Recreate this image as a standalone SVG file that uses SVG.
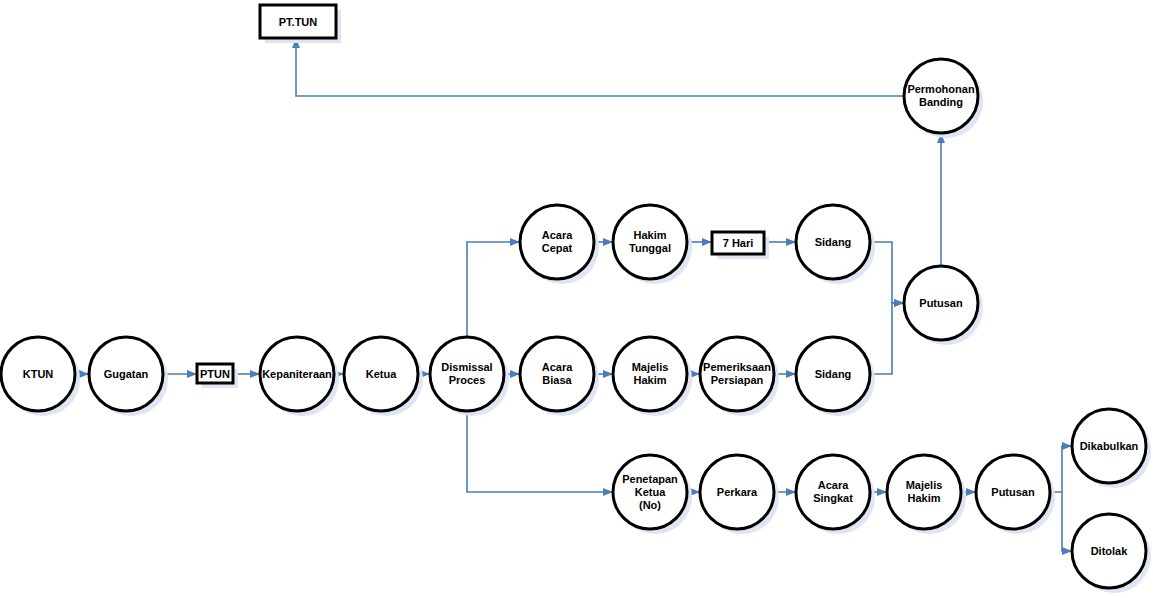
<svg xmlns="http://www.w3.org/2000/svg" width="1153" height="598" viewBox="0 0 1153 598">
<style>
.n circle.s,.n rect.s{fill:#dfe5f2;stroke:none}
.n circle.m,.n rect.m{fill:#fff;stroke:#000;stroke-width:3}
.n text{font-family:"Liberation Sans",Arial,sans-serif;font-size:11px;font-weight:bold;text-anchor:middle;fill:#000}
.c path{fill:none;stroke:#4a7ebb;stroke-width:1.6;marker-end:url(#a)}
</style>
<defs><marker id="a" markerWidth="10" markerHeight="8" refX="9" refY="4" orient="auto" markerUnits="userSpaceOnUse"><path d="M0,0L10,4L0,8z" fill="#4a7ebb"/></marker></defs>
<rect width="1153" height="598" fill="#fff"/>
<g class="c">
<path d="M75,374H88"/><path d="M163,374H196"/><path d="M234,374H259"/><path d="M334,374H343"/><path d="M418,374H429"/>
<path d="M504,374H519"/><path d="M594,374H612"/><path d="M687,374H699"/><path d="M774,374H795"/>
<path d="M467,337V242H519"/><path d="M594,242H612"/><path d="M687,242H711"/><path d="M765,242H795"/>
<path d="M870,242H892V303H903"/><path d="M870,374H892V303H903"/>
<path d="M941,266V134"/><path d="M904,96H296V39"/>
<path d="M467,411V492H612"/><path d="M687,492H699"/><path d="M774,492H795"/><path d="M870,492H886"/><path d="M961,492H975"/>
<path d="M1050,492H1062V446H1071"/><path d="M1062,492V551H1071"/>
</g>
<g id="ptt" class="n"><rect class="s" x="265" y="10" width="76" height="33"/><rect class="m" x="260" y="5" width="76" height="33"/><text x="298" y="26">PT.TUN</text></g>
<g id="ptun" class="n"><rect class="s" x="202" y="369" width="36" height="19"/><rect class="m" x="197" y="364" width="36" height="19"/><text x="215" y="378">PTUN</text></g>
<g id="h7" class="n"><rect class="s" x="717" y="237" width="52" height="22"/><rect class="m" x="712" y="232" width="52" height="22"/><text x="738" y="247">7 Hari</text></g>
<g id="ktun" class="n"><circle class="s" cx="43" cy="379" r="37"/><circle class="m" cx="38" cy="374" r="37"/><text x="38" y="378">KTUN</text></g>
<g id="gugatan" class="n"><circle class="s" cx="131" cy="379" r="37"/><circle class="m" cx="126" cy="374" r="37"/><text x="126" y="378">Gugatan</text></g>
<g id="kep" class="n"><circle class="s" cx="302" cy="379" r="37"/><circle class="m" cx="297" cy="374" r="37"/><text x="297" y="378">Kepaniteraan</text></g>
<g id="ketua" class="n"><circle class="s" cx="386" cy="379" r="37"/><circle class="m" cx="381" cy="374" r="37"/><text x="381" y="378">Ketua</text></g>
<g id="dis" class="n"><circle class="s" cx="472" cy="379" r="37"/><circle class="m" cx="467" cy="374" r="37"/><text x="467" y="371">Dismissal</text><text x="467" y="384">Proces</text></g>
<g id="ab" class="n"><circle class="s" cx="562" cy="379" r="37"/><circle class="m" cx="557" cy="374" r="37"/><text x="557" y="371">Acara</text><text x="557" y="384">Biasa</text></g>
<g id="mh1" class="n"><circle class="s" cx="655" cy="379" r="37"/><circle class="m" cx="650" cy="374" r="37"/><text x="650" y="371">Majelis</text><text x="650" y="384">Hakim</text></g>
<g id="pp" class="n"><circle class="s" cx="742" cy="379" r="37"/><circle class="m" cx="737" cy="374" r="37"/><text x="737" y="371">Pemeriksaan</text><text x="737" y="384">Persiapan</text></g>
<g id="sid2" class="n"><circle class="s" cx="838" cy="379" r="37"/><circle class="m" cx="833" cy="374" r="37"/><text x="833" y="378">Sidang</text></g>
<g id="ac" class="n"><circle class="s" cx="562" cy="247" r="37"/><circle class="m" cx="557" cy="242" r="37"/><text x="557" y="239">Acara</text><text x="557" y="252">Cepat</text></g>
<g id="ht" class="n"><circle class="s" cx="655" cy="247" r="37"/><circle class="m" cx="650" cy="242" r="37"/><text x="650" y="239">Hakim</text><text x="650" y="252">Tunggal</text></g>
<g id="sid1" class="n"><circle class="s" cx="838" cy="247" r="37"/><circle class="m" cx="833" cy="242" r="37"/><text x="833" y="246">Sidang</text></g>
<g id="put1" class="n"><circle class="s" cx="946" cy="308" r="37"/><circle class="m" cx="941" cy="303" r="37"/><text x="941" y="307">Putusan</text></g>
<g id="pb" class="n"><circle class="s" cx="946" cy="101" r="37"/><circle class="m" cx="941" cy="96" r="37"/><text x="941" y="93">Permohonan</text><text x="941" y="106">Banding</text></g>
<g id="pk" class="n"><circle class="s" cx="655" cy="497" r="37"/><circle class="m" cx="650" cy="492" r="37"/><text x="650" y="483">Penetapan</text><text x="650" y="496">Ketua</text><text x="650" y="509">(No)</text></g>
<g id="perk" class="n"><circle class="s" cx="742" cy="497" r="37"/><circle class="m" cx="737" cy="492" r="37"/><text x="737" y="496">Perkara</text></g>
<g id="as" class="n"><circle class="s" cx="838" cy="497" r="37"/><circle class="m" cx="833" cy="492" r="37"/><text x="833" y="489">Acara</text><text x="833" y="502">Singkat</text></g>
<g id="mh2" class="n"><circle class="s" cx="929" cy="497" r="37"/><circle class="m" cx="924" cy="492" r="37"/><text x="924" y="489">Majelis</text><text x="924" y="502">Hakim</text></g>
<g id="put2" class="n"><circle class="s" cx="1018" cy="497" r="37"/><circle class="m" cx="1013" cy="492" r="37"/><text x="1013" y="496">Putusan</text></g>
<g id="dik" class="n"><circle class="s" cx="1114" cy="451" r="37"/><circle class="m" cx="1109" cy="446" r="37"/><text x="1109" y="450">Dikabulkan</text></g>
<g id="dit" class="n"><circle class="s" cx="1114" cy="556" r="37"/><circle class="m" cx="1109" cy="551" r="37"/><text x="1109" y="555">Ditolak</text></g>
</svg>
